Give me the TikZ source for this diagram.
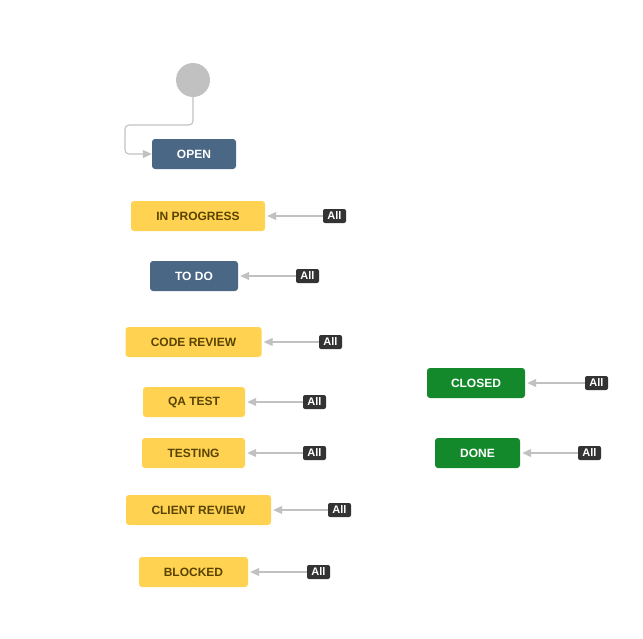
\documentclass[tikz,border=0pt]{standalone}
\usepackage{fontspec}
\setmainfont{Liberation Sans}
\usetikzlibrary{arrows.meta, positioning}
\definecolor{statusBlue}{HTML}{4A6785}
\definecolor{statusYellow}{HTML}{FFD351}
\definecolor{statusGreen}{HTML}{14892C}
\definecolor{yellowText}{HTML}{594300}
\definecolor{badgeDark}{HTML}{333333}
\definecolor{lineGray}{HTML}{C1C1C1}

\begin{document}
\begin{tikzpicture}[x=1pt, y=-1pt,
    status/.style={rounded corners=3pt, minimum height=30pt, inner sep=0pt,
        font=\fontsize{12}{14}\selectfont\bfseries},
    todo/.style={status, fill=statusBlue, text=white},
    inwork/.style={status, fill=statusYellow, text=yellowText},
    finished/.style={status, fill=statusGreen, text=white},
    badge/.style={rounded corners=2pt, fill=badgeDark, text=white, minimum width=23pt,
        minimum height=14pt, inner sep=0pt, font=\fontsize{11}{12}\selectfont\bfseries},
    flow/.style={draw=lineGray, line width=1.1pt, -{Triangle[length=9pt, width=8pt]}}]
    \useasboundingbox (0,0) rectangle (643,638);

    % initial state
    \node[circle, fill=lineGray, minimum size=34pt, inner sep=0pt] (start) at (193,80) {};
    \node[todo, minimum width=84pt] (open) at (194,154) {OPEN};
    \coordinate (bendA) at (193,125);
    \coordinate (bendB) at (125,125);
    \coordinate (bendC) at (125,154);
    \draw[flow, rounded corners=4pt] (start.south) -- (bendA) -- (bendB) -- (bendC) -- (open.west);

    % statuses
    \node[inwork, minimum width=134pt] (inprogress) at (198,216) {IN PROGRESS};
    \node[todo, minimum width=88pt] (todo) at (194,276) {TO DO};
    \node[inwork, minimum width=136pt] (codereview) at (193.5,342) {CODE REVIEW};
    \node[inwork, minimum width=102pt] (qatest) at (194,402) {QA TEST};
    \node[inwork, minimum width=103pt] (testing) at (193.5,453) {TESTING};
    \node[inwork, minimum width=145pt] (clientreview) at (198.5,510) {CLIENT REVIEW};
    \node[inwork, minimum width=109pt] (blocked) at (193.5,572) {BLOCKED};
    \node[finished, minimum width=98pt] (closed) at (476,383) {CLOSED};
    \node[finished, minimum width=85pt] (done) at (477.5,453) {DONE};

    % global transitions
    \node[badge] (allInprogress) at (334.5,216) {All};
    \node[badge] (allTodo) at (307.5,276) {All};
    \node[badge] (allCodereview) at (330.5,342) {All};
    \node[badge] (allQatest) at (314.5,402) {All};
    \node[badge] (allTesting) at (314.5,453) {All};
    \node[badge] (allClientreview) at (339.5,510) {All};
    \node[badge] (allBlocked) at (318.5,572) {All};
    \node[badge] (allClosed) at (596.5,383) {All};
    \node[badge] (allDone) at (589.5,453) {All};

    \draw[flow] (allInprogress) -- ([xshift=2pt]inprogress.east);
    \draw[flow] (allTodo) -- ([xshift=2pt]todo.east);
    \draw[flow] (allCodereview) -- ([xshift=2pt]codereview.east);
    \draw[flow] (allQatest) -- ([xshift=2pt]qatest.east);
    \draw[flow] (allTesting) -- ([xshift=2pt]testing.east);
    \draw[flow] (allClientreview) -- ([xshift=2pt]clientreview.east);
    \draw[flow] (allBlocked) -- ([xshift=2pt]blocked.east);
    \draw[flow] (allClosed) -- ([xshift=2pt]closed.east);
    \draw[flow] (allDone) -- ([xshift=2pt]done.east);
\end{tikzpicture}
\end{document}
